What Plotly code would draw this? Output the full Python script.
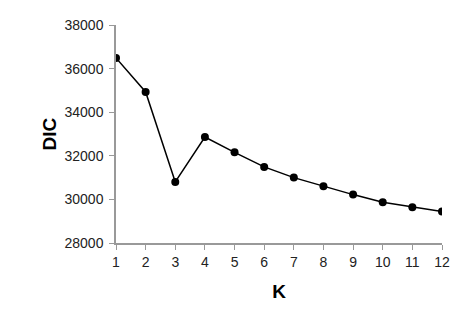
import plotly.graph_objects as go

K = list(range(1, 13))
DIC = [36490, 34930, 30800, 32860, 32160, 31490, 31000, 30600, 30220, 29870, 29640, 29440]
y_ticks = [28000, 30000, 32000, 34000, 36000, 38000]
y_tick_text = [str(v) for v in y_ticks]

fig = go.Figure(go.Scatter(
    x=K, y=DIC, mode="lines+markers",
    line=dict(color="black", width=1.5),
    marker=dict(color="black", size=8),
))

fig.update_layout(
    width=474, height=318,
    margin=dict(l=116, r=32, t=25, b=75),
    paper_bgcolor="white", plot_bgcolor="white",
    font=dict(family="Liberation Sans, Arial, sans-serif", size=14, color="#222"),
    showlegend=False,
)
fig.update_xaxes(
    range=[1, 12], tickvals=K, showgrid=False, zeroline=False,
    showline=True, linecolor="#999", linewidth=1.5,
    ticks="outside", ticklen=5, tickcolor="#999",
    title=dict(text="<b>K</b>", font=dict(size=19, color="black"), standoff=16),
)
fig.update_yaxes(
    range=[28000, 38000], tickvals=y_ticks, ticktext=y_tick_text,
    showgrid=False, zeroline=False,
    showline=True, linecolor="#999", linewidth=1.5,
    ticks="outside", ticklen=5, tickcolor="#999", ticklabelstandoff=3,
    title=dict(text="<b>DIC</b>", font=dict(size=19, color="black"), standoff=3),
)

fig.write_html("out.html")
